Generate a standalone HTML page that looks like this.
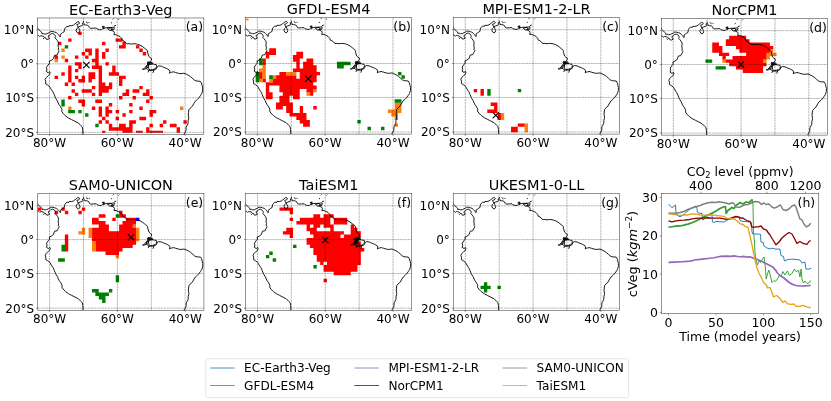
<!DOCTYPE html>
<html><head><meta charset="utf-8"><title>figure</title>
<style>html,body{margin:0;padding:0;background:#fff}svg{display:block}</style></head>
<body>
<svg width="831" height="401" viewBox="0 0 831 401" font-family="DejaVu Sans, Liberation Sans, sans-serif">
<rect width="831" height="401" fill="#fff"/>
<g transform="translate(0 0)">
<defs>
<clipPath id="pc"><rect x="0" y="0" width="166.15" height="116.45"/></clipPath>
<path id="coast" d="M-1.42 7.97 L-0.4 9.33 L0.27 10.69 L1.63 12.05 L2.99 13.57 L4.34 14.75 L4.17 15.6 L5.7 15.6 L7.05 16.11 L8.75 15.94 L10.44 15.09 L12.14 14.25 L13.33 13.4 L15.19 13.57 L16.89 14.08 L18.58 14.59 L19.94 15.77 L20.78 16.61 L21.63 17.8 L22.48 18.98 L22.82 17.46 L22.48 16.44 L24 15.6 L25.02 14.42 L26.38 13.91 L26.72 12.39 L27.05 10.69 L27.9 9.5 L29.26 8.48 L31.12 8.65 L31.46 7.63 L33.5 7.8 L35.53 7.29 L37.23 5.93 L38.24 5.25 L39.94 3.72 L41.29 4.06 L41.8 5.08 L40.95 6.1 L39.09 6.61 L39.6 7.63 L40.11 8.82 L40.28 9.67 L38.92 11.03 L38.41 12.73 L39.26 14.42 L40.62 15.26 L41.8 14.42 L42.14 12.73 L41.29 10.69 L40.62 9.33 L40.62 8.82 L42.31 8.31 L44.68 7.46 L45.02 6.61 L44.68 5.25 L45.7 4.57 L46.38 5.59 L46.55 6.95 L48.07 6.95 L49.77 7.29 L51.12 8.14 L51.63 9.5 L52.48 10.35 L55.87 10.18 L58.58 10.01 L59.43 11.03 L61.63 11.71 L63.67 11.71 L65.02 10.69 L66.72 10.52 L65.19 9.84 L67.73 9.84 L70.45 9.6 L73.16 9.6 L71.46 10.18 L69.77 10.35 L70.45 11.2 L71.8 12.22 L74.18 12.56 L76.21 13.57 L76.72 14.75 L76.21 16.78 L78.24 16.78 L79.94 17.46 L82.31 18.64 L84.35 20.84 L84.85 22.53 L86.72 23.2 L88.75 25.4 L89.43 25.91 L91.47 25.74 L93.5 26.08 L96.21 25.74 L98.58 25.91 L100.11 26.41 L102.31 27.09 L104.35 28.27 L106.38 29.79 L107.74 30.98 L109.09 31.82 L109.77 32.84 L110.11 35.03 L111.13 38.41 L112.48 39.6 L113.67 40.27 L113.84 42.13 L112.48 43.48 L111.47 44.84 L110.45 45.85 L109.09 47.21 L107.74 49.25 L106.04 50.77 L104.69 51.28 L106.04 51.45 L108.42 50.6 L110.11 51.28 L111.13 52.47 L113.5 52.47 L115.53 52.3 L117.23 51.62 L118.59 50.94 L119.6 48.57 L120.96 47.89 L123.67 48.23 L125.7 49.25 L128.08 50.09 L129.77 50.94 L131.47 51.96 L132.15 53.32 L131.81 55.36 L132.82 54.34 L133.84 54.34 L135.53 53.83 L137.91 54.51 L140.62 55.36 L142.99 55.7 L145.71 55.36 L147.74 55.7 L150.79 57.39 L152.82 58.58 L155.2 60.79 L156.89 62.32 L159.27 63.16 L162.66 63.33 L163.67 64.86 L164.35 67.24 L165.03 69.95 L164.86 73.01 L164.01 75.73 L162.66 77.76 L160.96 80.15 L159.6 81.53 L157.57 83.26 L156.21 85.34 L154.52 88.45 L152.49 90.18 L151.13 91.91 L150.79 94.33 L150.62 97.1 L151.13 99.87 L150.45 102.64 L150.28 105.75 L149.43 107.48 L148.42 109.21 L148.25 112.67 L147.4 114.4 L145.71 117.16 M-1.42 16.11 L-0.4 17.12 L0.61 17.46 L1.29 17.8 L1.97 18.64 L2.99 17.8 L4.34 17.96 L6.04 18.47 L6.72 19.66 L8.07 19.82 L8.75 21.34 L10.27 21.34 L11.8 20.5 L10.78 18.98 L10.44 17.96 L12.14 16.95 L13.16 15.77 L14.85 15.43 L16.55 16.44 L17.56 17.63 L17.73 18.64 L17.22 19.82 L18.58 21.18 L19.6 22.53 L20.61 24.22 L20.61 26.58 L20.27 27.26 L20.78 29.63 L20.61 31.99 L21.46 32.84 L20.27 35.03 L19.26 37.06 L16.89 37.4 L16.21 39.09 L15.7 40.78 L13.5 42.47 L11.63 43.15 L11.63 45.51 L10.44 47.04 L8.75 49.41 L9.26 51.96 L8.58 53.49 L10.61 54.85 L11.97 53.66 L12.48 55.02 L11.8 56.71 L10.61 57.56 L8.41 59.77 L7.39 61.64 L8.07 63.5 L7.9 65.88 L9.77 66.9 L11.97 68.6 L13.5 71.31 L15.19 73.86 L16.55 76.74 L17.9 80.15 L19.6 82.91 L21.29 86.72 L22.65 88.45 L24.34 91.56 L24 93.29 L25.36 95.37 L27.73 97.79 L30.78 100.04 L33.84 101.6 L37.23 103.33 L40.62 105.06 L42.99 107.48 L44.51 108.86 L45.02 111.98 L45.19 115.09 L45.02 117.5 M110.96 46.53 L113.5 45.85 L115.87 46.19 L118.59 46.7 L118.92 48.23 L118.25 49.92 L117.23 50.94 L114.86 51.62 L112.48 51.96 L111.13 50.94 L110.79 48.91Z M111.81 44.33 L114.52 44.5 L115.03 45.85 L112.82 46.19 L111.47 45.34Z M110.45 43.99 L112.14 45.17 L110.79 46.02Z M111.47 44.16 L113.84 44.84 L112.48 46.19 L110.45 46.53 L109.77 45.17Z M109.43 47.89 L111.13 47.21 L110.45 49.25 L108.42 49.92Z M116.21 52.13 L115.36 54.68 M111.13 52.3 L110.45 54 M73.16 9.67 L74.85 9.33 L76.55 9.16 L76.21 11.54 L73.16 11.88 L74.52 11.03Z M76.72 7.97 L77.91 7.46 M64.68 8.82 L66.04 8.31 L66.72 8.65 L65.7 8.99Z M45.53 3.38 L46.04 3.72 M48.58 4.06 L49.77 4.91 M51.12 4.4 L51.63 4.91 M73.67 4.91 L74.01 4.74 M75.36 1.17 L75.7 0.83 M80.96 1.51 L81.3 1.17 M5.53 20.33 L6.04 20.84" fill="none" stroke="#000" stroke-width="0.9" stroke-linejoin="round" stroke-linecap="round"/>
<path id="grid" d="M11.8 0V116.45 M45.7 0V116.45 M79.6 0V116.45 M113.5 0V116.45 M147.4 0V116.45 M0 12.05H166.15 M0 45.85H166.15 M0 79.8H166.15 M0 114.4H166.15" fill="none" stroke="#000" stroke-width="0.8" stroke-dasharray="2.2 0.6" stroke-opacity="0.36"/>
</defs>
<g transform="translate(37.7 17.98)">
<g clip-path="url(#pc)">
<path d="M40.62 13.74H44V17.12H40.62ZM30.45 20.5H33.84V23.88H30.45ZM77.91 20.5H81.55V23.88H77.91ZM81.3 20.5H84.69V23.88H81.3ZM20.27 23.88H23.66V27.26H20.27ZM64.34 23.88H67.73V27.26H64.34ZM84.69 23.88H88.08V27.51H84.69ZM81.3 27.26H84.94V30.64H81.3ZM84.69 27.26H88.08V30.64H84.69ZM98.25 27.26H101.64V30.64H98.25ZM47.39 30.64H51.03V34.02H47.39ZM50.78 30.64H54.17V34.27H50.78ZM57.56 30.64H60.95V34.27H57.56ZM67.73 30.64H71.12V34.02H67.73ZM101.64 30.64H105.03V34.02H101.64ZM44 34.02H47.39V37.4H44ZM50.78 34.02H54.17V37.4H50.78ZM57.56 34.02H60.95V37.65H57.56ZM64.34 34.02H67.73V37.65H64.34ZM105.03 34.02H108.42V37.4H105.03ZM16.89 37.4H20.27V41.03H16.89ZM37.23 37.4H40.62V40.78H37.23ZM47.39 37.4H50.78V40.78H47.39ZM57.56 37.4H60.95V41.03H57.56ZM64.34 37.4H67.73V40.78H64.34ZM27.05 40.78H30.45V44.16H27.05ZM54.17 40.78H57.81V44.16H54.17ZM57.56 40.78H60.95V44.41H57.56ZM37.23 44.16H40.87V47.55H37.23ZM40.62 44.16H44V47.8H40.62ZM57.56 44.16H60.95V47.8H57.56ZM67.73 44.16H71.12V47.55H67.73ZM30.45 47.55H33.84V51.19H30.45ZM40.62 47.55H44V50.94H40.62ZM60.95 47.55H64.34V51.19H60.95ZM57.56 47.55H61.2V50.94H57.56ZM54.17 47.55H57.81V50.94H54.17ZM74.52 47.55H77.91V51.19H74.52ZM30.45 50.94H33.84V54.59H30.45ZM37.23 50.94H40.62V54.34H37.23ZM60.95 50.94H64.34V54.59H60.95ZM74.52 50.94H77.91V54.59H74.52ZM23.66 54.34H27.05V57.73H23.66ZM30.45 54.34H33.84V57.98H30.45ZM50.78 54.34H54.42V57.98H50.78ZM54.17 54.34H57.56V57.98H54.17ZM60.95 54.34H64.34V57.98H60.95ZM77.91 54.34H81.3V57.73H77.91ZM74.52 54.34H78.16V57.73H74.52ZM71.12 54.34H74.77V57.73H71.12ZM16.89 57.73H20.27V61.13H16.89ZM30.45 57.73H33.84V61.38H30.45ZM37.23 57.73H40.62V61.13H37.23ZM44 57.73H47.39V61.38H44ZM50.78 57.73H54.42V61.38H50.78ZM54.17 57.73H57.56V61.13H54.17ZM60.95 57.73H64.34V61.38H60.95ZM81.3 57.73H84.94V61.38H81.3ZM84.69 57.73H88.08V61.13H84.69ZM30.45 61.13H33.84V64.52H30.45ZM40.62 61.13H44.25V64.52H40.62ZM44 61.13H47.39V64.52H44ZM50.78 61.13H54.17V64.52H50.78ZM60.95 61.13H64.34V64.77H60.95ZM81.3 61.13H84.69V64.77H81.3ZM27.05 64.52H30.45V67.92H27.05ZM33.84 64.52H37.23V67.92H33.84ZM60.95 64.52H64.59V68.17H60.95ZM64.34 64.52H67.73V68.17H64.34ZM71.12 64.52H74.52V68.17H71.12ZM81.3 64.52H84.69V67.92H81.3ZM54.17 67.92H57.56V71.31H54.17ZM71.12 67.92H74.52V71.31H71.12ZM67.73 67.92H71.38V71.56H67.73ZM64.34 67.92H67.98V71.56H64.34ZM60.95 67.92H64.59V71.56H60.95ZM101.64 67.92H105.03V71.31H101.64ZM33.84 71.31H37.23V74.71H33.84ZM50.78 71.31H54.17V74.71H50.78ZM47.39 71.31H51.03V74.71H47.39ZM44 71.31H47.64V74.71H44ZM67.73 71.31H71.12V74.71H67.73ZM64.34 71.31H67.98V74.71H64.34ZM60.95 71.31H64.59V74.96H60.95ZM88.08 71.31H91.47V74.96H88.08ZM94.86 71.31H98.5V74.71H94.86ZM98.25 71.31H101.64V74.71H98.25ZM108.42 71.31H111.81V74.96H108.42ZM37.23 74.71H40.62V78.1H37.23ZM54.17 74.71H57.56V78.1H54.17ZM60.95 74.71H64.34V78.1H60.95ZM84.69 74.71H88.33V78.1H84.69ZM88.08 74.71H91.47V78.1H88.08ZM105.03 74.71H108.67V78.1H105.03ZM108.42 74.71H111.81V78.1H108.42ZM30.45 78.1H33.84V81.53H30.45ZM81.3 78.1H84.69V81.53H81.3ZM94.86 78.1H98.25V81.53H94.86ZM111.81 78.1H115.2V81.53H111.81ZM40.62 81.53H44.25V84.99H40.62ZM44 81.53H47.39V85.24H44ZM57.56 81.53H61.2V84.99H57.56ZM60.95 81.53H64.34V84.99H60.95ZM108.42 81.53H111.81V84.99H108.42ZM44 84.99H47.39V88.45H44ZM71.12 84.99H74.52V88.45H71.12ZM91.47 84.99H94.86V88.45H91.47ZM54.17 88.45H57.56V91.91H54.17ZM60.95 88.45H64.34V92.16H60.95ZM67.73 88.45H71.12V92.16H67.73ZM101.64 88.45H105.03V91.91H101.64ZM60.95 91.91H64.34V95.62H60.95ZM67.73 91.91H71.38V95.62H67.73ZM71.12 91.91H74.52V95.37H71.12ZM77.91 91.91H81.3V95.37H77.91ZM91.47 91.91H94.86V95.37H91.47ZM111.81 91.91H115.45V95.62H111.81ZM115.2 91.91H118.59V95.37H115.2ZM60.95 95.37H64.34V98.83H60.95ZM67.73 95.37H71.12V98.83H67.73ZM84.69 95.37H88.08V98.83H84.69ZM111.81 95.37H115.2V98.83H111.81ZM64.34 98.83H67.73V102.29H64.34ZM77.91 98.83H81.3V102.29H77.91ZM101.64 98.83H105.28V102.29H101.64ZM105.03 98.83H108.42V102.29H105.03ZM60.95 102.29H64.34V105.75H60.95ZM67.73 102.29H71.12V105.75H67.73ZM91.47 102.29H95.11V106H91.47ZM94.86 102.29H98.25V105.75H94.86ZM125.36 102.29H128.75V105.75H125.36ZM145.71 102.29H149.1V105.75H145.71ZM71.12 105.75H74.52V109.46H71.12ZM81.3 105.75H84.94V109.46H81.3ZM84.69 105.75H88.08V109.46H84.69ZM91.47 105.75H94.86V109.46H91.47ZM111.81 105.75H115.2V109.21H111.81ZM121.97 105.75H125.36V109.21H121.97ZM132.15 105.75H135.78V109.21H132.15ZM135.53 105.75H138.93V109.21H135.53ZM91.47 109.21H94.86V112.92H91.47ZM88.08 109.21H91.72V112.92H88.08ZM84.69 109.21H88.33V112.92H84.69ZM81.3 109.21H84.94V112.67H81.3ZM77.91 109.21H81.55V112.67H77.91ZM74.52 109.21H78.16V112.67H74.52ZM71.12 109.21H74.77V112.67H71.12ZM108.42 109.21H111.81V112.92H108.42ZM138.93 109.21H142.32V112.92H138.93ZM64.34 112.67H67.73V114.7H64.34ZM91.47 112.67H94.86V114.7H91.47ZM88.08 112.67H91.72V114.7H88.08ZM84.69 112.67H88.33V114.7H84.69ZM98.25 112.67H101.89V114.7H98.25ZM101.64 112.67H105.03V114.7H101.64ZM121.97 112.67H125.36V114.7H121.97ZM118.59 112.67H122.22V114.7H118.59ZM115.2 112.67H118.84V114.7H115.2ZM111.81 112.67H115.45V114.7H111.81ZM108.42 112.67H112.06V114.7H108.42ZM138.93 112.67H142.32V114.7H138.93Z" fill="#ff0000"/>
<path d="M23.66 30.64H27.05V34.02H23.66ZM23.66 37.4H27.05V40.78H23.66ZM16.89 40.78H20.27V44.16H16.89ZM30.45 88.45H33.84V92.16H30.45ZM142.32 88.45H145.71V91.91H142.32Z" fill="#ff7f0e"/>
<path d="M27.05 27.26H30.45V30.64H27.05ZM23.66 81.53H27.05V85.24H23.66ZM23.66 84.99H27.05V88.45H23.66ZM30.45 91.91H34.09V95.37H30.45ZM33.84 91.91H37.23V95.37H33.84ZM40.62 91.91H44V95.37H40.62ZM47.39 95.37H50.78V98.83H47.39ZM57.56 105.75H60.95V109.21H57.56Z" fill="#008000"/>
<use href="#grid"/>
<use href="#coast"/>
<path d="M45.6 43.92L51.9 50.22M45.6 50.22L51.9 43.92" stroke="#000" stroke-width="1.1" fill="none"/>
</g>
<text x="165.45" y="12.9" font-size="12.5" text-anchor="end">(a)</text>
<rect x="0" y="0" width="166.15" height="116.45" fill="none" stroke="#000" stroke-width="0.42"/>
<text x="11.8" y="129.45" font-size="12.0" text-anchor="middle">80°W</text>
<text x="79.6" y="129.45" font-size="12.0" text-anchor="middle">60°W</text>
<text x="147.4" y="129.45" font-size="12.0" text-anchor="middle">40°W</text>
<text x="-3.6" y="16.45" font-size="12.0" text-anchor="end">10°N</text>
<text x="-3.6" y="50.25" font-size="12.0" text-anchor="end">0°</text>
<text x="-3.6" y="84.2" font-size="12.0" text-anchor="end">10°S</text>
<text x="-3.6" y="118.8" font-size="12.0" text-anchor="end">20°S</text>
<path d="M11.8 116.45v1.7M79.6 116.45v1.7M147.4 116.45v1.7M0 12.05h-1.7M0 45.85h-1.7M0 79.8h-1.7M0 114.4h-1.7" stroke="#000" stroke-width="0.42" fill="none"/>
<text x="83.08" y="-3.3" font-size="14.45" text-anchor="middle">EC-Earth3-Veg</text>
</g>
<g transform="translate(245.55 17.63)">
<g clip-path="url(#pc)">
<path d="M23.66 30.64H27.3V34.27H23.66ZM27.05 30.64H30.45V34.27H27.05ZM20.27 34.02H23.91V37.65H20.27ZM23.66 34.02H27.3V37.4H23.66ZM27.05 34.02H30.45V37.4H27.05ZM50.78 34.02H54.42V37.65H50.78ZM54.17 34.02H57.56V37.65H54.17ZM20.27 37.4H23.66V40.78H20.27ZM47.39 37.4H51.03V41.03H47.39ZM50.78 37.4H54.42V41.03H50.78ZM54.17 37.4H57.56V40.78H54.17ZM16.89 40.78H20.27V44.41H16.89ZM47.39 40.78H51.03V44.16H47.39ZM50.78 40.78H54.17V44.41H50.78ZM60.95 40.78H64.59V44.41H60.95ZM64.34 40.78H67.73V44.41H64.34ZM16.89 44.16H20.27V47.8H16.89ZM50.78 44.16H54.17V47.8H50.78ZM64.34 44.16H67.73V47.8H64.34ZM60.95 44.16H64.59V47.8H60.95ZM57.56 44.16H61.2V47.8H57.56ZM50.78 47.55H54.17V51.19H50.78ZM67.73 47.55H71.12V51.19H67.73ZM64.34 47.55H67.98V51.19H64.34ZM60.95 47.55H64.59V51.19H60.95ZM57.56 47.55H61.2V51.19H57.56ZM67.73 50.94H71.12V54.59H67.73ZM64.34 50.94H67.98V54.59H64.34ZM60.95 50.94H64.59V54.59H60.95ZM57.56 50.94H61.2V54.59H57.56ZM54.17 50.94H57.81V54.59H54.17ZM50.78 50.94H54.42V54.34H50.78ZM47.39 50.94H51.03V54.59H47.39ZM13.5 54.34H17.14V57.98H13.5ZM33.84 54.34H37.48V57.98H33.84ZM37.23 54.34H40.87V57.98H37.23ZM71.12 54.34H74.52V57.73H71.12ZM67.73 54.34H71.38V57.98H67.73ZM64.34 54.34H67.98V57.98H64.34ZM60.95 54.34H64.59V57.98H60.95ZM57.56 54.34H61.2V57.98H57.56ZM54.17 54.34H57.81V57.98H54.17ZM13.5 57.73H17.14V61.38H13.5ZM47.39 57.73H50.78V61.38H47.39ZM44 57.73H47.64V61.38H44ZM40.62 57.73H44.25V61.38H40.62ZM37.23 57.73H40.87V61.38H37.23ZM33.84 57.73H37.48V61.38H33.84ZM30.45 57.73H34.09V61.38H30.45ZM67.73 57.73H71.12V61.38H67.73ZM64.34 57.73H67.98V61.38H64.34ZM60.95 57.73H64.59V61.38H60.95ZM57.56 57.73H61.2V61.38H57.56ZM54.17 57.73H57.81V61.38H54.17ZM16.89 61.13H20.27V64.52H16.89ZM67.73 61.13H71.12V64.52H67.73ZM64.34 61.13H67.98V64.77H64.34ZM60.95 61.13H64.59V64.77H60.95ZM57.56 61.13H61.2V64.77H57.56ZM54.17 61.13H57.81V64.77H54.17ZM50.78 61.13H54.42V64.77H50.78ZM47.39 61.13H51.03V64.77H47.39ZM44 61.13H47.64V64.77H44ZM40.62 61.13H44.25V64.77H40.62ZM37.23 61.13H40.87V64.77H37.23ZM33.84 61.13H37.48V64.77H33.84ZM30.45 61.13H34.09V64.77H30.45ZM27.05 61.13H30.7V64.77H27.05ZM64.34 64.52H67.73V68.17H64.34ZM60.95 64.52H64.59V68.17H60.95ZM57.56 64.52H61.2V68.17H57.56ZM54.17 64.52H57.81V68.17H54.17ZM50.78 64.52H54.42V68.17H50.78ZM47.39 64.52H51.03V68.17H47.39ZM44 64.52H47.64V68.17H44ZM40.62 64.52H44.25V68.17H40.62ZM37.23 64.52H40.87V68.17H37.23ZM33.84 64.52H37.48V68.17H33.84ZM30.45 64.52H34.09V67.92H30.45ZM27.05 64.52H30.7V67.92H27.05ZM23.66 64.52H27.3V67.92H23.66ZM20.27 64.52H23.91V68.17H20.27ZM20.27 67.92H23.66V71.56H20.27ZM67.73 67.92H71.12V71.56H67.73ZM64.34 67.92H67.98V71.56H64.34ZM60.95 67.92H64.59V71.56H60.95ZM57.56 67.92H61.2V71.31H57.56ZM54.17 67.92H57.81V71.31H54.17ZM50.78 67.92H54.42V71.56H50.78ZM47.39 67.92H51.03V71.56H47.39ZM44 67.92H47.64V71.56H44ZM40.62 67.92H44.25V71.56H40.62ZM37.23 67.92H40.87V71.56H37.23ZM33.84 67.92H37.48V71.56H33.84ZM20.27 71.31H23.66V74.96H20.27ZM50.78 71.31H54.17V74.96H50.78ZM47.39 71.31H51.03V74.96H47.39ZM44 71.31H47.64V74.96H44ZM40.62 71.31H44.25V74.96H40.62ZM37.23 71.31H40.87V74.96H37.23ZM33.84 71.31H37.48V74.71H33.84ZM60.95 71.31H64.59V74.96H60.95ZM64.34 71.31H67.98V74.96H64.34ZM20.27 74.71H23.91V78.35H20.27ZM23.66 74.71H27.05V78.35H23.66ZM50.78 74.71H54.17V78.35H50.78ZM47.39 74.71H51.03V78.35H47.39ZM44 74.71H47.64V78.1H44ZM40.62 74.71H44.25V78.35H40.62ZM37.23 74.71H40.87V78.35H37.23ZM64.34 74.71H67.73V78.1H64.34ZM20.27 78.1H23.91V81.53H20.27ZM23.66 78.1H27.05V81.53H23.66ZM40.62 78.1H44V81.78H40.62ZM37.23 78.1H40.87V81.78H37.23ZM33.84 78.1H37.48V81.78H33.84ZM47.39 78.1H51.03V81.53H47.39ZM50.78 78.1H54.17V81.53H50.78ZM40.62 81.53H44V85.24H40.62ZM37.23 81.53H40.87V85.24H37.23ZM33.84 81.53H37.48V85.24H33.84ZM44 84.99H47.39V88.7H44ZM40.62 84.99H44.25V88.7H40.62ZM37.23 84.99H40.87V88.45H37.23ZM33.84 84.99H37.48V88.7H33.84ZM30.45 84.99H34.09V88.7H30.45ZM30.45 88.45H34.09V91.91H30.45ZM33.84 88.45H37.23V91.91H33.84ZM40.62 88.45H44.25V92.16H40.62ZM44 88.45H47.39V92.16H44ZM54.17 88.45H57.56V92.16H54.17ZM67.73 88.45H71.12V91.91H67.73ZM40.62 91.91H44.25V95.37H40.62ZM44 91.91H47.39V95.62H44ZM54.17 91.91H57.56V95.62H54.17ZM57.56 95.37H60.95V99.08H57.56ZM54.17 95.37H57.81V99.08H54.17ZM50.78 95.37H54.42V99.08H50.78ZM47.39 95.37H51.03V98.83H47.39ZM44 95.37H47.64V98.83H44ZM57.56 98.83H60.95V102.54H57.56ZM54.17 98.83H57.81V102.54H54.17ZM50.78 98.83H54.42V102.29H50.78ZM60.95 102.29H64.34V106H60.95ZM57.56 102.29H61.2V106H57.56ZM54.17 102.29H57.81V105.75H54.17ZM57.56 105.75H61.2V109.21H57.56ZM60.95 105.75H64.34V109.21H60.95Z" fill="#ff0000"/>
<path d="M16.89 47.55H20.27V51.19H16.89ZM13.5 50.94H17.14V54.59H13.5ZM16.89 50.94H20.27V54.59H16.89ZM16.89 54.34H20.27V57.98H16.89ZM47.39 54.34H50.78V57.98H47.39ZM44 54.34H47.64V57.98H44ZM40.62 54.34H44.25V57.98H40.62ZM16.89 57.73H20.27V61.38H16.89ZM27.05 57.73H30.7V61.38H27.05ZM13.5 61.13H17.14V64.52H13.5ZM23.66 61.13H27.3V64.77H23.66ZM67.73 71.31H71.12V74.71H67.73ZM60.95 74.71H64.59V78.1H60.95ZM149.1 84.99H152.74V88.7H149.1ZM152.49 84.99H155.88V88.7H152.49ZM149.1 88.45H152.74V92.16H149.1ZM152.49 88.45H155.88V92.16H152.49ZM152.49 91.91H155.88V95.37H152.49ZM149.1 91.91H152.74V95.62H149.1ZM145.71 91.91H149.35V95.62H145.71ZM142.32 91.91H145.96V95.37H142.32ZM145.71 95.37H149.35V98.83H145.71ZM149.1 95.37H152.49V99.08H149.1ZM149.1 98.83H152.49V102.29H149.1ZM149.1 105.75H152.49V109.21H149.1Z" fill="#ff7f0e"/>
<path d="M13.5 40.78H17.14V44.41H13.5ZM13.5 44.16H17.14V47.55H13.5ZM101.64 44.16H105.03V47.55H101.64ZM98.25 44.16H101.89V47.55H98.25ZM94.86 44.16H98.5V47.8H94.86ZM91.47 44.16H95.11V47.8H91.47ZM91.47 47.55H95.11V50.94H91.47ZM94.86 47.55H98.25V50.94H94.86ZM10.11 54.34H13.75V57.98H10.11ZM152.49 54.34H155.88V57.73H152.49ZM10.11 57.73H13.75V61.38H10.11ZM23.66 57.73H27.3V61.38H23.66ZM155.88 57.73H159.27V61.13H155.88ZM10.11 61.13H13.75V64.52H10.11ZM149.1 81.53H152.74V85.24H149.1ZM152.49 81.53H155.88V85.24H152.49ZM111.81 102.29H115.2V105.75H111.81ZM121.97 109.21H125.36V112.67H121.97ZM135.53 109.21H138.93V112.67H135.53Z" fill="#008000"/>
<rect x="0.5" y="1.0" width="2.6" height="1.8" fill="#ff7f0e"/>
<use href="#grid"/>
<use href="#coast"/>
<path d="M59.5 57.98L65.8 64.28M59.5 64.28L65.8 57.98" stroke="#000" stroke-width="1.1" fill="none"/>
</g>
<text x="165.45" y="12.9" font-size="12.5" text-anchor="end">(b)</text>
<rect x="0" y="0" width="166.15" height="116.45" fill="none" stroke="#000" stroke-width="0.42"/>
<text x="11.8" y="129.45" font-size="12.0" text-anchor="middle">80°W</text>
<text x="79.6" y="129.45" font-size="12.0" text-anchor="middle">60°W</text>
<text x="147.4" y="129.45" font-size="12.0" text-anchor="middle">40°W</text>
<text x="-3.6" y="16.45" font-size="12.0" text-anchor="end">10°N</text>
<text x="-3.6" y="50.25" font-size="12.0" text-anchor="end">0°</text>
<text x="-3.6" y="84.2" font-size="12.0" text-anchor="end">10°S</text>
<text x="-3.6" y="118.8" font-size="12.0" text-anchor="end">20°S</text>
<path d="M11.8 116.45v1.7M79.6 116.45v1.7M147.4 116.45v1.7M0 12.05h-1.7M0 45.85h-1.7M0 79.8h-1.7M0 114.4h-1.7" stroke="#000" stroke-width="0.42" fill="none"/>
<text x="83.08" y="-3.3" font-size="14.45" text-anchor="middle">GFDL-ESM4</text>
</g>
<g transform="translate(453.45 17.63)">
<g clip-path="url(#pc)">
<path d="M20.27 71.31H23.66V74.71H20.27ZM27.05 71.31H30.45V74.96H27.05ZM27.05 74.71H30.45V78.1H27.05ZM37.23 84.99H40.87V88.45H37.23ZM40.62 84.99H44V88.7H40.62ZM40.62 88.45H44V92.16H40.62ZM33.84 91.91H37.48V95.37H33.84ZM37.23 91.91H40.87V95.37H37.23ZM40.62 91.91H44V95.37H40.62ZM44 95.37H47.64V99.08H44ZM44 98.83H47.64V102.29H44ZM64.34 105.75H67.98V109.21H64.34ZM67.73 105.75H71.38V109.21H67.73ZM57.56 109.21H61.2V112.92H57.56ZM60.95 109.21H64.34V112.92H60.95ZM57.56 112.67H61.2V114.7H57.56ZM60.95 112.67H64.34V114.7H60.95Z" fill="#ff0000"/>
<path d="M47.39 95.37H50.78V99.08H47.39ZM47.39 98.83H50.78V102.29H47.39ZM71.12 105.75H74.52V109.46H71.12ZM71.12 109.21H74.52V112.92H71.12ZM71.12 112.67H74.52V114.7H71.12Z" fill="#ff7f0e"/>
<path d="M33.84 71.31H37.23V74.96H33.84ZM64.34 71.31H67.73V74.71H64.34ZM33.84 74.71H37.23V78.1H33.84Z" fill="#008000"/>
<use href="#grid"/>
<use href="#coast"/>
<path d="M39.16 94.47L45.46 100.77M39.16 100.77L45.46 94.47" stroke="#000" stroke-width="1.1" fill="none"/>
</g>
<text x="165.45" y="12.9" font-size="12.5" text-anchor="end">(c)</text>
<rect x="0" y="0" width="166.15" height="116.45" fill="none" stroke="#000" stroke-width="0.42"/>
<text x="11.8" y="129.45" font-size="12.0" text-anchor="middle">80°W</text>
<text x="79.6" y="129.45" font-size="12.0" text-anchor="middle">60°W</text>
<text x="147.4" y="129.45" font-size="12.0" text-anchor="middle">40°W</text>
<text x="-3.6" y="16.45" font-size="12.0" text-anchor="end">10°N</text>
<text x="-3.6" y="50.25" font-size="12.0" text-anchor="end">0°</text>
<text x="-3.6" y="84.2" font-size="12.0" text-anchor="end">10°S</text>
<text x="-3.6" y="118.8" font-size="12.0" text-anchor="end">20°S</text>
<path d="M11.8 116.45v1.7M79.6 116.45v1.7M147.4 116.45v1.7M0 12.05h-1.7M0 45.85h-1.7M0 79.8h-1.7M0 114.4h-1.7" stroke="#000" stroke-width="0.42" fill="none"/>
<text x="83.08" y="-3.3" font-size="14.45" text-anchor="middle">MPI-ESM1-2-LR</text>
</g>
<g transform="translate(661.45 18.63)">
<g clip-path="url(#pc)">
<path d="M81.3 17.12H84.69V20.75H81.3ZM77.91 17.12H81.55V20.75H77.91ZM74.52 17.12H78.16V20.75H74.52ZM71.12 17.12H74.77V20.75H71.12ZM67.73 17.12H71.38V20.75H67.73ZM84.69 20.5H88.08V24.13H84.69ZM81.3 20.5H84.94V24.13H81.3ZM77.91 20.5H81.55V24.13H77.91ZM74.52 20.5H78.16V24.13H74.52ZM71.12 20.5H74.77V24.13H71.12ZM67.73 20.5H71.38V24.13H67.73ZM64.34 20.5H67.98V24.13H64.34ZM50.78 23.88H54.42V27.51H50.78ZM54.17 23.88H57.56V27.51H54.17ZM105.03 23.88H108.42V27.51H105.03ZM101.64 23.88H105.28V27.51H101.64ZM98.25 23.88H101.89V27.51H98.25ZM94.86 23.88H98.5V27.51H94.86ZM91.47 23.88H95.11V27.51H91.47ZM88.08 23.88H91.72V27.51H88.08ZM84.69 23.88H88.33V27.51H84.69ZM81.3 23.88H84.94V27.51H81.3ZM77.91 23.88H81.55V27.51H77.91ZM74.52 23.88H78.16V27.51H74.52ZM71.12 23.88H74.77V27.26H71.12ZM67.73 23.88H71.38V27.26H67.73ZM64.34 23.88H67.98V27.26H64.34ZM57.56 27.26H60.95V30.89H57.56ZM54.17 27.26H57.81V30.89H54.17ZM50.78 27.26H54.42V30.89H50.78ZM108.42 27.26H111.81V30.89H108.42ZM105.03 27.26H108.67V30.89H105.03ZM101.64 27.26H105.28V30.89H101.64ZM98.25 27.26H101.89V30.89H98.25ZM94.86 27.26H98.5V30.89H94.86ZM91.47 27.26H95.11V30.89H91.47ZM88.08 27.26H91.72V30.89H88.08ZM84.69 27.26H88.33V30.89H84.69ZM81.3 27.26H84.94V30.89H81.3ZM77.91 27.26H81.55V30.89H77.91ZM74.52 27.26H78.16V30.64H74.52ZM57.56 30.64H60.95V34.27H57.56ZM54.17 30.64H57.81V34.02H54.17ZM50.78 30.64H54.42V34.02H50.78ZM105.03 30.64H108.67V34.27H105.03ZM101.64 30.64H105.28V34.27H101.64ZM98.25 30.64H101.89V34.27H98.25ZM94.86 30.64H98.5V34.27H94.86ZM91.47 30.64H95.11V34.27H91.47ZM88.08 30.64H91.72V34.27H88.08ZM84.69 30.64H88.33V34.27H84.69ZM81.3 30.64H84.94V34.02H81.3ZM77.91 30.64H81.55V34.02H77.91ZM64.34 34.02H67.73V37.4H64.34ZM60.95 34.02H64.59V37.65H60.95ZM57.56 34.02H61.2V37.4H57.56ZM101.64 34.02H105.28V37.65H101.64ZM98.25 34.02H101.89V37.65H98.25ZM94.86 34.02H98.5V37.65H94.86ZM91.47 34.02H95.11V37.65H91.47ZM88.08 34.02H91.72V37.65H88.08ZM84.69 34.02H88.33V37.65H84.69ZM60.95 37.4H64.34V41.03H60.95ZM101.64 37.4H105.28V41.03H101.64ZM98.25 37.4H101.89V41.03H98.25ZM94.86 37.4H98.5V41.03H94.86ZM91.47 37.4H95.11V41.03H91.47ZM88.08 37.4H91.72V41.03H88.08ZM84.69 37.4H88.33V41.03H84.69ZM81.3 37.4H84.94V41.03H81.3ZM77.91 37.4H81.55V41.03H77.91ZM74.52 37.4H78.16V41.03H74.52ZM71.12 37.4H74.77V41.03H71.12ZM98.25 40.78H101.89V44.41H98.25ZM94.86 40.78H98.5V44.41H94.86ZM91.47 40.78H95.11V44.41H91.47ZM88.08 40.78H91.72V44.41H88.08ZM84.69 40.78H88.33V44.41H84.69ZM81.3 40.78H84.94V44.41H81.3ZM77.91 40.78H81.55V44.41H77.91ZM74.52 40.78H78.16V44.41H74.52ZM71.12 40.78H74.77V44.41H71.12ZM67.73 40.78H71.38V44.41H67.73ZM64.34 40.78H67.98V44.16H64.34ZM101.64 44.16H105.03V47.55H101.64ZM98.25 44.16H101.89V47.8H98.25ZM94.86 44.16H98.5V47.8H94.86ZM91.47 44.16H95.11V47.8H91.47ZM88.08 44.16H91.72V47.8H88.08ZM84.69 44.16H88.33V47.8H84.69ZM81.3 44.16H84.94V47.8H81.3ZM77.91 44.16H81.55V47.8H77.91ZM74.52 44.16H78.16V47.8H74.52ZM71.12 44.16H74.77V47.55H71.12ZM67.73 44.16H71.38V47.55H67.73ZM98.25 47.55H101.64V51.19H98.25ZM94.86 47.55H98.5V51.19H94.86ZM91.47 47.55H95.11V51.19H91.47ZM88.08 47.55H91.72V51.19H88.08ZM84.69 47.55H88.33V51.19H84.69ZM81.3 47.55H84.94V51.19H81.3ZM77.91 47.55H81.55V50.94H77.91ZM74.52 47.55H78.16V50.94H74.52ZM98.25 50.94H101.64V54.34H98.25ZM94.86 50.94H98.5V54.34H94.86ZM91.47 50.94H95.11V54.34H91.47ZM88.08 50.94H91.72V54.34H88.08ZM84.69 50.94H88.33V54.34H84.69ZM81.3 50.94H84.94V54.34H81.3Z" fill="#ff0000"/>
<path d="M108.42 30.64H111.81V34.27H108.42ZM111.81 34.02H115.2V37.4H111.81ZM108.42 34.02H112.06V37.4H108.42ZM105.03 34.02H108.67V37.65H105.03ZM105.03 37.4H108.42V40.78H105.03ZM60.95 40.78H64.59V44.16H60.95ZM101.64 40.78H105.03V44.41H101.64Z" fill="#ff7f0e"/>
<path d="M44 40.78H47.64V44.16H44ZM47.39 40.78H50.78V44.16H47.39ZM60.95 47.55H64.34V50.94H60.95ZM57.56 47.55H61.2V50.94H57.56ZM54.17 47.55H57.81V50.94H54.17Z" fill="#008000"/>
<use href="#grid"/>
<use href="#coast"/>
<path d="M76.45 42.7L82.75 49M76.45 49L82.75 42.7" stroke="#000" stroke-width="1.1" fill="none"/>
</g>
<text x="165.45" y="12.9" font-size="12.5" text-anchor="end">(d)</text>
<rect x="0" y="0" width="166.15" height="116.45" fill="none" stroke="#000" stroke-width="0.42"/>
<text x="11.8" y="129.45" font-size="12.0" text-anchor="middle">80°W</text>
<text x="79.6" y="129.45" font-size="12.0" text-anchor="middle">60°W</text>
<text x="147.4" y="129.45" font-size="12.0" text-anchor="middle">40°W</text>
<text x="-3.6" y="16.45" font-size="12.0" text-anchor="end">10°N</text>
<text x="-3.6" y="50.25" font-size="12.0" text-anchor="end">0°</text>
<text x="-3.6" y="84.2" font-size="12.0" text-anchor="end">10°S</text>
<text x="-3.6" y="118.8" font-size="12.0" text-anchor="end">20°S</text>
<path d="M11.8 116.45v1.7M79.6 116.45v1.7M147.4 116.45v1.7M0 12.05h-1.7M0 45.85h-1.7M0 79.8h-1.7M0 114.4h-1.7" stroke="#000" stroke-width="0.42" fill="none"/>
<text x="83.08" y="-3.3" font-size="14.45" text-anchor="middle">NorCPM1</text>
</g>
<g transform="translate(37.8 193.75)">
<g clip-path="url(#pc)">
<path d="M-0.06 13.74H3.33V17.12H-0.06ZM23.66 13.74H27.05V17.12H23.66ZM44 13.74H47.39V17.12H44ZM16.89 17.12H20.27V20.5H16.89ZM27.05 17.12H30.45V20.5H27.05ZM40.62 17.12H44V20.5H40.62ZM81.3 17.12H84.69V20.75H81.3ZM60.95 20.5H64.59V23.88H60.95ZM64.34 20.5H67.73V23.88H64.34ZM81.3 20.5H84.94V23.88H81.3ZM84.69 20.5H88.08V23.88H84.69ZM54.17 23.88H57.81V27.51H54.17ZM57.56 23.88H60.95V27.51H57.56ZM74.52 23.88H77.91V27.26H74.52ZM94.86 23.88H98.5V27.51H94.86ZM91.47 23.88H95.11V27.51H91.47ZM88.08 23.88H91.72V27.51H88.08ZM64.34 27.26H67.73V30.89H64.34ZM60.95 27.26H64.59V30.89H60.95ZM57.56 27.26H61.2V30.64H57.56ZM54.17 27.26H57.81V30.64H54.17ZM94.86 27.26H98.25V30.89H94.86ZM91.47 27.26H95.11V30.89H91.47ZM88.08 27.26H91.72V30.89H88.08ZM84.69 27.26H88.33V30.89H84.69ZM67.73 30.64H71.12V34.27H67.73ZM64.34 30.64H67.98V34.27H64.34ZM60.95 30.64H64.59V34.27H60.95ZM91.47 30.64H95.11V34.27H91.47ZM88.08 30.64H91.72V34.27H88.08ZM84.69 30.64H88.33V34.27H84.69ZM81.3 30.64H84.94V34.27H81.3ZM67.73 34.02H71.12V37.65H67.73ZM64.34 34.02H67.98V37.65H64.34ZM60.95 34.02H64.59V37.65H60.95ZM57.56 34.02H61.2V37.65H57.56ZM54.17 34.02H57.81V37.65H54.17ZM94.86 34.02H98.5V37.65H94.86ZM91.47 34.02H95.11V37.65H91.47ZM88.08 34.02H91.72V37.65H88.08ZM84.69 34.02H88.33V37.65H84.69ZM81.3 34.02H84.94V37.65H81.3ZM94.86 37.4H98.5V41.03H94.86ZM91.47 37.4H95.11V41.03H91.47ZM88.08 37.4H91.72V41.03H88.08ZM84.69 37.4H88.33V41.03H84.69ZM81.3 37.4H84.94V41.03H81.3ZM77.91 37.4H81.55V41.03H77.91ZM74.52 37.4H78.16V41.03H74.52ZM71.12 37.4H74.77V41.03H71.12ZM67.73 37.4H71.38V41.03H67.73ZM64.34 37.4H67.98V41.03H64.34ZM60.95 37.4H64.59V41.03H60.95ZM57.56 37.4H61.2V41.03H57.56ZM54.17 37.4H57.81V41.03H54.17ZM27.05 40.78H30.45V44.41H27.05ZM94.86 40.78H98.5V44.41H94.86ZM91.47 40.78H95.11V44.41H91.47ZM88.08 40.78H91.72V44.41H88.08ZM84.69 40.78H88.33V44.41H84.69ZM81.3 40.78H84.94V44.41H81.3ZM77.91 40.78H81.55V44.41H77.91ZM74.52 40.78H78.16V44.41H74.52ZM71.12 40.78H74.77V44.41H71.12ZM67.73 40.78H71.38V44.41H67.73ZM64.34 40.78H67.98V44.41H64.34ZM60.95 40.78H64.59V44.41H60.95ZM57.56 40.78H61.2V44.41H57.56ZM54.17 40.78H57.81V44.41H54.17ZM27.05 44.16H30.45V47.8H27.05ZM94.86 44.16H98.5V47.8H94.86ZM91.47 44.16H95.11V47.8H91.47ZM88.08 44.16H91.72V47.8H88.08ZM84.69 44.16H88.33V47.8H84.69ZM81.3 44.16H84.94V47.8H81.3ZM77.91 44.16H81.55V47.8H77.91ZM74.52 44.16H78.16V47.8H74.52ZM71.12 44.16H74.77V47.8H71.12ZM67.73 44.16H71.38V47.8H67.73ZM64.34 44.16H67.98V47.8H64.34ZM60.95 44.16H64.59V47.8H60.95ZM57.56 44.16H61.2V47.8H57.56ZM54.17 44.16H57.81V47.8H54.17ZM27.05 47.55H30.45V51.19H27.05ZM94.86 47.55H98.25V50.94H94.86ZM91.47 47.55H95.11V51.19H91.47ZM88.08 47.55H91.72V51.19H88.08ZM84.69 47.55H88.33V51.19H84.69ZM81.3 47.55H84.94V51.19H81.3ZM77.91 47.55H81.55V51.19H77.91ZM74.52 47.55H78.16V51.19H74.52ZM71.12 47.55H74.77V51.19H71.12ZM67.73 47.55H71.38V51.19H67.73ZM64.34 47.55H67.98V51.19H64.34ZM60.95 47.55H64.59V51.19H60.95ZM57.56 47.55H61.2V51.19H57.56ZM27.05 50.94H30.45V54.59H27.05ZM91.47 50.94H94.86V54.34H91.47ZM88.08 50.94H91.72V54.34H88.08ZM84.69 50.94H88.33V54.34H84.69ZM81.3 50.94H84.94V54.59H81.3ZM77.91 50.94H81.55V54.59H77.91ZM74.52 50.94H78.16V54.59H74.52ZM71.12 50.94H74.77V54.59H71.12ZM67.73 50.94H71.38V54.59H67.73ZM64.34 50.94H67.98V54.59H64.34ZM60.95 50.94H64.59V54.59H60.95ZM57.56 50.94H61.2V54.59H57.56ZM27.05 54.34H30.45V57.73H27.05ZM81.3 54.34H84.69V57.73H81.3ZM77.91 54.34H81.55V57.98H77.91ZM74.52 54.34H78.16V57.98H74.52ZM71.12 54.34H74.77V57.98H71.12ZM67.73 54.34H71.38V57.98H67.73ZM64.34 54.34H67.98V57.73H64.34ZM60.95 54.34H64.59V57.73H60.95ZM57.56 54.34H61.2V57.73H57.56ZM77.91 57.73H81.3V61.38H77.91ZM74.52 57.73H78.16V61.13H74.52ZM71.12 57.73H74.77V61.13H71.12ZM67.73 57.73H71.38V61.13H67.73Z" fill="#ff0000"/>
<path d="M94.86 30.64H98.25V34.27H94.86ZM44 34.02H47.39V37.65H44ZM50.78 34.02H54.42V37.65H50.78ZM98.25 34.02H101.64V37.65H98.25ZM40.62 37.4H44.25V40.78H40.62ZM44 37.4H47.39V40.78H44ZM50.78 37.4H54.42V41.03H50.78ZM98.25 37.4H101.64V41.03H98.25ZM50.78 40.78H54.42V44.16H50.78ZM98.25 40.78H101.64V44.41H98.25ZM98.25 44.16H101.64V47.55H98.25ZM54.17 47.55H57.81V51.19H54.17ZM54.17 50.94H57.81V54.59H54.17ZM54.17 54.34H57.81V57.73H54.17ZM77.91 61.13H81.3V64.52H77.91Z" fill="#ff7f0e"/>
<path d="M77.91 20.5H81.55V23.88H77.91ZM23.66 50.94H27.3V54.59H23.66ZM23.66 54.34H27.3V57.73H23.66ZM20.27 64.52H23.91V67.92H20.27ZM23.66 64.52H27.05V67.92H23.66ZM77.91 81.53H81.3V85.24H77.91ZM77.91 84.99H81.3V88.45H77.91ZM54.17 95.37H57.81V98.83H54.17ZM57.56 95.37H60.95V99.08H57.56ZM71.12 95.37H74.52V98.83H71.12ZM67.73 98.83H71.12V102.29H67.73ZM64.34 98.83H67.98V102.54H64.34ZM60.95 98.83H64.59V102.54H60.95ZM57.56 98.83H61.2V102.29H57.56ZM60.95 102.29H64.59V105.75H60.95ZM64.34 102.29H67.73V106H64.34ZM64.34 105.75H67.73V109.21H64.34Z" fill="#008000"/>
<path d="M98.25 23.88H101.64V27.26H98.25Z" fill="#0000ff"/>
<use href="#grid"/>
<use href="#coast"/>
<path d="M90.01 40.33L96.31 46.63M90.01 46.63L96.31 40.33" stroke="#000" stroke-width="1.1" fill="none"/>
</g>
<text x="165.45" y="12.9" font-size="12.5" text-anchor="end">(e)</text>
<rect x="0" y="0" width="166.15" height="116.45" fill="none" stroke="#000" stroke-width="0.42"/>
<text x="11.8" y="129.45" font-size="12.0" text-anchor="middle">80°W</text>
<text x="79.6" y="129.45" font-size="12.0" text-anchor="middle">60°W</text>
<text x="147.4" y="129.45" font-size="12.0" text-anchor="middle">40°W</text>
<text x="-3.6" y="16.45" font-size="12.0" text-anchor="end">10°N</text>
<text x="-3.6" y="50.25" font-size="12.0" text-anchor="end">0°</text>
<text x="-3.6" y="84.2" font-size="12.0" text-anchor="end">10°S</text>
<text x="-3.6" y="118.8" font-size="12.0" text-anchor="end">20°S</text>
<path d="M11.8 116.45v1.7M79.6 116.45v1.7M147.4 116.45v1.7M0 12.05h-1.7M0 45.85h-1.7M0 79.8h-1.7M0 114.4h-1.7" stroke="#000" stroke-width="0.42" fill="none"/>
<text x="83.08" y="-3.3" font-size="14.45" text-anchor="middle">SAM0-UNICON</text>
</g>
<g transform="translate(245.65 193.75)">
<g clip-path="url(#pc)">
<path d="M44 13.74H47.39V17.37H44ZM40.62 13.74H44.25V17.12H40.62ZM37.23 13.74H40.87V17.12H37.23ZM33.84 13.74H37.48V17.12H33.84ZM44 17.12H47.39V20.5H44ZM67.73 20.5H71.38V24.13H67.73ZM71.12 20.5H74.52V24.13H71.12ZM84.69 20.5H88.08V23.88H84.69ZM81.3 20.5H84.94V24.13H81.3ZM77.91 20.5H81.55V24.13H77.91ZM44 23.88H47.39V27.26H44ZM81.3 23.88H84.69V27.51H81.3ZM77.91 23.88H81.55V27.51H77.91ZM74.52 23.88H78.16V27.51H74.52ZM71.12 23.88H74.77V27.51H71.12ZM67.73 23.88H71.38V27.51H67.73ZM64.34 23.88H67.98V27.51H64.34ZM60.95 23.88H64.59V27.51H60.95ZM57.56 23.88H61.2V27.51H57.56ZM54.17 23.88H57.81V27.51H54.17ZM98.25 23.88H101.64V27.51H98.25ZM94.86 23.88H98.5V27.51H94.86ZM91.47 23.88H95.11V27.51H91.47ZM88.08 23.88H91.72V27.51H88.08ZM81.3 27.26H84.69V30.89H81.3ZM77.91 27.26H81.55V30.89H77.91ZM74.52 27.26H78.16V30.64H74.52ZM71.12 27.26H74.77V30.89H71.12ZM67.73 27.26H71.38V30.89H67.73ZM64.34 27.26H67.98V30.64H64.34ZM60.95 27.26H64.59V30.89H60.95ZM57.56 27.26H61.2V30.64H57.56ZM54.17 27.26H57.81V30.64H54.17ZM50.78 27.26H54.42V30.64H50.78ZM98.25 27.26H101.64V30.64H98.25ZM94.86 27.26H98.5V30.64H94.86ZM91.47 27.26H95.11V30.64H91.47ZM88.08 27.26H91.72V30.64H88.08ZM60.95 30.64H64.34V34.27H60.95ZM67.73 30.64H71.38V34.27H67.73ZM71.12 30.64H74.52V34.02H71.12ZM84.69 30.64H88.08V34.27H84.69ZM81.3 30.64H84.94V34.02H81.3ZM77.91 30.64H81.55V34.02H77.91ZM105.03 30.64H108.42V34.27H105.03ZM40.62 34.02H44.25V37.65H40.62ZM44 34.02H47.39V37.65H44ZM67.73 34.02H71.12V37.65H67.73ZM64.34 34.02H67.98V37.65H64.34ZM60.95 34.02H64.59V37.4H60.95ZM84.69 34.02H88.08V37.65H84.69ZM105.03 34.02H108.67V37.65H105.03ZM108.42 34.02H111.81V37.65H108.42ZM44 37.4H47.39V41.03H44ZM40.62 37.4H44.25V40.78H40.62ZM37.23 37.4H40.87V40.78H37.23ZM94.86 37.4H98.25V40.78H94.86ZM91.47 37.4H95.11V41.03H91.47ZM88.08 37.4H91.72V41.03H88.08ZM84.69 37.4H88.33V41.03H84.69ZM81.3 37.4H84.94V41.03H81.3ZM77.91 37.4H81.55V41.03H77.91ZM74.52 37.4H78.16V41.03H74.52ZM71.12 37.4H74.77V41.03H71.12ZM67.73 37.4H71.38V41.03H67.73ZM64.34 37.4H67.98V40.78H64.34ZM111.81 37.4H115.2V41.03H111.81ZM108.42 37.4H112.06V41.03H108.42ZM105.03 37.4H108.67V41.03H105.03ZM44 40.78H47.39V44.16H44ZM91.47 40.78H94.86V44.41H91.47ZM88.08 40.78H91.72V44.41H88.08ZM84.69 40.78H88.33V44.41H84.69ZM81.3 40.78H84.94V44.41H81.3ZM77.91 40.78H81.55V44.41H77.91ZM74.52 40.78H78.16V44.41H74.52ZM71.12 40.78H74.77V44.41H71.12ZM67.73 40.78H71.38V44.41H67.73ZM111.81 40.78H115.2V44.16H111.81ZM108.42 40.78H112.06V44.41H108.42ZM105.03 40.78H108.67V44.41H105.03ZM101.64 40.78H105.28V44.41H101.64ZM98.25 40.78H101.89V44.41H98.25ZM108.42 44.16H111.81V47.8H108.42ZM105.03 44.16H108.67V47.8H105.03ZM101.64 44.16H105.28V47.8H101.64ZM98.25 44.16H101.89V47.8H98.25ZM94.86 44.16H98.5V47.8H94.86ZM91.47 44.16H95.11V47.8H91.47ZM88.08 44.16H91.72V47.8H88.08ZM84.69 44.16H88.33V47.8H84.69ZM81.3 44.16H84.94V47.8H81.3ZM77.91 44.16H81.55V47.8H77.91ZM74.52 44.16H78.16V47.8H74.52ZM71.12 44.16H74.77V47.8H71.12ZM67.73 44.16H71.38V47.8H67.73ZM64.34 44.16H67.98V47.8H64.34ZM60.95 44.16H64.59V47.8H60.95ZM111.81 47.55H115.2V51.19H111.81ZM108.42 47.55H112.06V51.19H108.42ZM105.03 47.55H108.67V51.19H105.03ZM101.64 47.55H105.28V51.19H101.64ZM98.25 47.55H101.89V51.19H98.25ZM94.86 47.55H98.5V51.19H94.86ZM91.47 47.55H95.11V51.19H91.47ZM88.08 47.55H91.72V51.19H88.08ZM84.69 47.55H88.33V51.19H84.69ZM81.3 47.55H84.94V51.19H81.3ZM77.91 47.55H81.55V51.19H77.91ZM74.52 47.55H78.16V51.19H74.52ZM71.12 47.55H74.77V51.19H71.12ZM67.73 47.55H71.38V51.19H67.73ZM64.34 47.55H67.98V51.19H64.34ZM60.95 47.55H64.59V50.94H60.95ZM111.81 50.94H115.2V54.59H111.81ZM108.42 50.94H112.06V54.59H108.42ZM105.03 50.94H108.67V54.59H105.03ZM101.64 50.94H105.28V54.59H101.64ZM98.25 50.94H101.89V54.59H98.25ZM94.86 50.94H98.5V54.59H94.86ZM91.47 50.94H95.11V54.59H91.47ZM88.08 50.94H91.72V54.59H88.08ZM84.69 50.94H88.33V54.59H84.69ZM81.3 50.94H84.94V54.59H81.3ZM77.91 50.94H81.55V54.59H77.91ZM74.52 50.94H78.16V54.59H74.52ZM71.12 50.94H74.77V54.59H71.12ZM67.73 50.94H71.38V54.59H67.73ZM64.34 50.94H67.98V54.34H64.34ZM115.2 54.34H118.59V57.73H115.2ZM111.81 54.34H115.45V57.98H111.81ZM108.42 54.34H112.06V57.98H108.42ZM105.03 54.34H108.67V57.98H105.03ZM101.64 54.34H105.28V57.98H101.64ZM98.25 54.34H101.89V57.98H98.25ZM94.86 54.34H98.5V57.98H94.86ZM91.47 54.34H95.11V57.98H91.47ZM88.08 54.34H91.72V57.98H88.08ZM84.69 54.34H88.33V57.98H84.69ZM81.3 54.34H84.94V57.98H81.3ZM77.91 54.34H81.55V57.98H77.91ZM74.52 54.34H78.16V57.98H74.52ZM71.12 54.34H74.77V57.98H71.12ZM67.73 54.34H71.38V57.98H67.73ZM111.81 57.73H115.2V61.38H111.81ZM108.42 57.73H112.06V61.38H108.42ZM105.03 57.73H108.67V61.38H105.03ZM101.64 57.73H105.28V61.38H101.64ZM98.25 57.73H101.89V61.38H98.25ZM94.86 57.73H98.5V61.38H94.86ZM91.47 57.73H95.11V61.38H91.47ZM88.08 57.73H91.72V61.38H88.08ZM84.69 57.73H88.33V61.38H84.69ZM81.3 57.73H84.94V61.38H81.3ZM77.91 57.73H81.55V61.38H77.91ZM74.52 57.73H78.16V61.38H74.52ZM71.12 57.73H74.77V61.38H71.12ZM67.73 57.73H71.38V61.13H67.73ZM111.81 61.13H115.2V64.77H111.81ZM108.42 61.13H112.06V64.77H108.42ZM105.03 61.13H108.67V64.77H105.03ZM101.64 61.13H105.28V64.77H101.64ZM98.25 61.13H101.89V64.77H98.25ZM94.86 61.13H98.5V64.77H94.86ZM91.47 61.13H95.11V64.77H91.47ZM88.08 61.13H91.72V64.77H88.08ZM84.69 61.13H88.33V64.77H84.69ZM81.3 61.13H84.94V64.77H81.3ZM77.91 61.13H81.55V64.77H77.91ZM74.52 61.13H78.16V64.77H74.52ZM71.12 61.13H74.77V64.77H71.12ZM111.81 64.52H115.2V68.17H111.81ZM108.42 64.52H112.06V68.17H108.42ZM105.03 64.52H108.67V68.17H105.03ZM101.64 64.52H105.28V68.17H101.64ZM98.25 64.52H101.89V68.17H98.25ZM94.86 64.52H98.5V68.17H94.86ZM91.47 64.52H95.11V68.17H91.47ZM88.08 64.52H91.72V68.17H88.08ZM84.69 64.52H88.33V68.17H84.69ZM81.3 64.52H84.94V68.17H81.3ZM77.91 64.52H81.55V67.92H77.91ZM74.52 64.52H78.16V68.17H74.52ZM71.12 64.52H74.77V67.92H71.12ZM74.52 67.92H77.91V71.31H74.52ZM111.81 67.92H115.2V71.31H111.81ZM108.42 67.92H112.06V71.56H108.42ZM105.03 67.92H108.67V71.56H105.03ZM101.64 67.92H105.28V71.56H101.64ZM98.25 67.92H101.89V71.56H98.25ZM94.86 67.92H98.5V71.56H94.86ZM91.47 67.92H95.11V71.56H91.47ZM88.08 67.92H91.72V71.56H88.08ZM84.69 67.92H88.33V71.56H84.69ZM81.3 67.92H84.94V71.56H81.3ZM108.42 71.31H111.81V74.96H108.42ZM105.03 71.31H108.67V74.96H105.03ZM101.64 71.31H105.28V74.96H101.64ZM98.25 71.31H101.89V74.96H98.25ZM94.86 71.31H98.5V74.96H94.86ZM91.47 71.31H95.11V74.96H91.47ZM88.08 71.31H91.72V74.96H88.08ZM84.69 71.31H88.33V74.96H84.69ZM81.3 71.31H84.94V74.96H81.3ZM77.91 71.31H81.55V74.96H77.91ZM108.42 74.71H111.81V78.1H108.42ZM105.03 74.71H108.67V78.1H105.03ZM101.64 74.71H105.28V78.35H101.64ZM98.25 74.71H101.89V78.35H98.25ZM94.86 74.71H98.5V78.35H94.86ZM91.47 74.71H95.11V78.35H91.47ZM88.08 74.71H91.72V78.35H88.08ZM84.69 74.71H88.33V78.1H84.69ZM81.3 74.71H84.94V78.1H81.3ZM77.91 74.71H81.55V78.1H77.91ZM101.64 78.1H105.03V81.53H101.64ZM98.25 78.1H101.89V81.53H98.25ZM94.86 78.1H98.5V81.53H94.86ZM91.47 78.1H95.11V81.53H91.47ZM88.08 78.1H91.72V81.53H88.08ZM77.91 84.99H81.3V88.45H77.91Z" fill="#ff0000"/>
<path d="M47.39 50.94H50.78V54.34H47.39ZM23.66 57.73H27.05V61.13H23.66ZM20.27 61.13H23.66V64.52H20.27ZM27.05 64.52H30.45V67.92H27.05ZM67.73 71.31H71.12V74.71H67.73Z" fill="#008000"/>
<use href="#grid"/>
<use href="#coast"/>
<path d="M76.45 43.04L82.75 49.34M76.45 49.34L82.75 43.04" stroke="#000" stroke-width="1.1" fill="none"/>
<path d="M107.98 44.74L114.28 51.04M107.98 51.04L114.28 44.74" stroke="#000" stroke-width="1.1" fill="none"/>
</g>
<text x="165.45" y="12.9" font-size="12.5" text-anchor="end">(f)</text>
<rect x="0" y="0" width="166.15" height="116.45" fill="none" stroke="#000" stroke-width="0.42"/>
<text x="11.8" y="129.45" font-size="12.0" text-anchor="middle">80°W</text>
<text x="79.6" y="129.45" font-size="12.0" text-anchor="middle">60°W</text>
<text x="147.4" y="129.45" font-size="12.0" text-anchor="middle">40°W</text>
<text x="-3.6" y="16.45" font-size="12.0" text-anchor="end">10°N</text>
<text x="-3.6" y="50.25" font-size="12.0" text-anchor="end">0°</text>
<text x="-3.6" y="84.2" font-size="12.0" text-anchor="end">10°S</text>
<text x="-3.6" y="118.8" font-size="12.0" text-anchor="end">20°S</text>
<path d="M11.8 116.45v1.7M79.6 116.45v1.7M147.4 116.45v1.7M0 12.05h-1.7M0 45.85h-1.7M0 79.8h-1.7M0 114.4h-1.7" stroke="#000" stroke-width="0.42" fill="none"/>
<text x="83.08" y="-3.3" font-size="14.45" text-anchor="middle">TaiESM1</text>
</g>
<g transform="translate(453.45 193.75)">
<g clip-path="url(#pc)">
<path d="M30.45 88.45H33.84V92.16H30.45ZM27.05 91.91H30.7V95.37H27.05ZM30.45 91.91H34.09V95.62H30.45ZM33.84 91.91H37.23V95.37H33.84ZM44 91.91H47.39V95.37H44ZM30.45 95.37H33.84V98.83H30.45Z" fill="#008000"/>
<use href="#grid"/>
<use href="#coast"/>
</g>
<text x="165.45" y="12.9" font-size="12.5" text-anchor="end">(g)</text>
<rect x="0" y="0" width="166.15" height="116.45" fill="none" stroke="#000" stroke-width="0.42"/>
<text x="11.8" y="129.45" font-size="12.0" text-anchor="middle">80°W</text>
<text x="79.6" y="129.45" font-size="12.0" text-anchor="middle">60°W</text>
<text x="147.4" y="129.45" font-size="12.0" text-anchor="middle">40°W</text>
<text x="-3.6" y="16.45" font-size="12.0" text-anchor="end">10°N</text>
<text x="-3.6" y="50.25" font-size="12.0" text-anchor="end">0°</text>
<text x="-3.6" y="84.2" font-size="12.0" text-anchor="end">10°S</text>
<text x="-3.6" y="118.8" font-size="12.0" text-anchor="end">20°S</text>
<path d="M11.8 116.45v1.7M79.6 116.45v1.7M147.4 116.45v1.7M0 12.05h-1.7M0 45.85h-1.7M0 79.8h-1.7M0 114.4h-1.7" stroke="#000" stroke-width="0.42" fill="none"/>
<text x="83.08" y="-3.3" font-size="14.45" text-anchor="middle">UKESM1-0-LL</text>
</g>
<clipPath id="hc"><rect x="661.45" y="193.4" width="157.35" height="120.3"/></clipPath>
<g clip-path="url(#hc)" fill="none" stroke-linejoin="round" stroke-linecap="butt">
<path d="M668.49 204.49 L669.99 205.49 L671.99 207.78 L673.99 205.99 L675.48 204.99 L675.98 211.98 L677.48 215.48 L679.98 216.78 L682.48 215.48 L684.98 213.48 L686.97 211.48 L689.97 208.98 L692.97 207.48 L695.96 205.99 L696.96 208.48 L697.46 212.48 L699.96 213.48 L701.96 213.18 L702.76 219.97 L703.96 219.47 L704.46 215.98 L707.95 215.48 L710.95 212.98 L711.95 214.48 L712.45 221.97 L713.95 222.47 L715.94 221.47 L719.94 221.77 L723.94 221.97 L725.93 220.97 L727.93 219.47 L731.93 218.97 L735.92 217.47 L738.92 216.98 L739.92 220.47 L740 220.47 L743 221.47 L745 221.47 L749.99 221.97 L751.49 222.97 L751.99 231.96 L752.19 232 L752.49 233.8 L755.98 234 L760.48 234.2 L760.98 241.99 L763.48 242.49 L763.78 245.98 L766.97 247.98 L769.97 248.98 L771.97 248.18 L774.97 248.98 L779.96 249.18 L780.96 255.47 L783.46 256.47 L784.46 260.97 L787.95 259.47 L791.95 259.17 L795.94 259.47 L799.94 259.97 L801.94 262.97 L804.94 261.97 L805.93 268.96 L808.93 269.16 L811.43 268.16" stroke="#1f77b4" stroke-width="0.95"/>
<path d="M668.49 227.26 L671.99 226.77 L675.98 226.17 L679.98 225.97 L683.98 225.17 L687.97 224.17 L691.97 222.77 L695.96 220.97 L699.96 218.97 L703.96 216.98 L707.95 215.18 L711.95 213.18 L715.94 210.98 L719.94 208.48 L723.94 206.79 L725.43 206.49 L726.13 213.48 L727.93 210.48 L731.93 207.48 L733.93 208.48 L735.92 205.49 L739.92 202.79 L740 202.49 L743 203.99 L745.99 201.99 L748.99 202.49 L752.49 199.49" stroke="#2ca02c" stroke-width="1.7"/>
<path d="M752.49 199.49 L752.99 204.99 L753.49 231.96 L753.69 233 L754.49 241.99 L754.99 252.98 L755.98 259.97 L757.48 264.97 L758.98 260.97 L760.48 262.47 L762.48 258.97 L763.98 256.97 L764.98 263.97 L765.47 268.96 L765.57 270 L766.17 278.99 L767.47 273.99 L768.97 270 L769.97 273.99 L771.97 282.49 L773.97 280.49 L775.46 281.49 L777.46 278.99 L779.46 274.99 L780.96 276.49 L782.96 271.5 L784.96 274.99 L787.45 271 L789.45 275.49 L791.95 273.49 L794.45 269 L796.44 272 L798.44 270 L799.94 276.99 L801.14 269 L801.94 278.99 L803.44 282.99 L804.94 280.99 L806.93 283.48 L808.93 282.99 L810.73 280.49" stroke="#2ca02c" stroke-width="0.95"/>
<path d="M668.49 262.47 L674.99 262.17 L681.98 261.77 L689.97 261.17 L694.97 259.97 L701.96 259.17 L707.95 258.47 L713.95 257.77 L719.94 256.47 L725.93 256.17 L729.93 256.47 L734.93 255.97 L738.92 256.77 L740 256.77 L744 256.47 L747.99 257.17 L749.99 256.77 L753.99 258.47 L757.98 259.77 L761.98 261.47 L765.97 263.47 L769.97 265.46 L772.97 267.16 L774.97 269.46 L775.96 270.5 L776.96 272.5 L779.96 275.49 L783.96 277.99 L787.95 281.49 L791.95 284.18 L795.94 285.48 L799.94 285.98 L804.94 285.78 L810.73 285.48" stroke="#9467bd" stroke-width="1.7"/>
<path d="M668.49 220.97 L671.99 221.97 L675.98 220.97 L679.98 220.47 L683.98 220.17 L687.97 219.77 L691.97 218.97 L695.96 218.47 L699.96 218.17 L703.96 218.17 L707.95 217.77 L711.95 218.17 L715.94 218.17 L719.94 218.17 L723.94 218.97 L725.93 219.47 L729.93 218.47 L732.93 217.47 L735.92 216.48 L739.92 217.47 L740 218.17 L742.5 217.77 L745 219.47 L747.99 220.97 L750.49 221.97 L751.49 226.47 L752.99 227.46 L755.98 226.97 L758.48 226.97 L760.98 225.97 L763.48 228.96 L766.97 230.46 L766.97 231 L769.97 235 L772.97 239.99 L775.96 244.79 L778.96 241.99 L781.96 237.99 L785.45 235 L788.95 232.5 L791.95 234 L794.45 238.49 L796.94 243.49 L799.94 241.49 L802.94 243.49 L806.93 244.49 L808.93 241.49 L810.73 240.49" stroke="#8b0000" stroke-width="1.3"/>
<path d="M668.49 212.98 L671.99 213.18 L675.98 213.28 L679.98 212.48 L683.98 211.48 L687.97 209.48 L691.97 207.98 L695.96 206.79 L699.96 205.49 L703.96 203.99 L707.95 202.79 L711.95 202.29 L715.94 202.49 L718.94 201.79 L721.94 202.29 L725.93 202.99 L728.93 203.99 L731.93 202.79 L733.93 203.49 L735.92 206.99 L739.92 207.18 L740 206.99 L744 204.99 L747.99 204.49 L751.99 202.79 L755.48 201.49 L758.98 201.99 L761.48 204.49 L763.98 202.99 L765.97 204.49 L768.97 203.99 L771.97 206.99 L774.47 208.18 L777.96 206.49 L780.46 204.99 L782.96 209.48 L785.95 210.48 L788.95 208.98 L791.95 205.99 L794.45 204.79 L795.94 206.99 L797.94 212.98 L799.94 218.97 L801.94 219.97 L803.94 223.97 L806.43 226.97 L808.93 225.47 L810.73 223.17" stroke="#7f7f7f" stroke-width="1.45"/>
<path d="M668.49 214.18 L671.99 214.18 L675.98 214.78 L679.98 215.28 L683.98 214.78 L687.97 214.98 L691.97 213.98 L695.96 214.18 L699.96 214.98 L703.96 215.18 L707.95 214.98 L711.95 214.78 L715.94 215.48 L719.94 215.78 L723.94 216.48 L727.93 218.47 L731.93 218.47 L734.93 219.47 L737.92 221.47 L739.92 223.47 L740 223.77 L743 224.47 L745 226.47 L747.99 227.46 L748.99 231.96 L749.19 233 L749.99 235.99 L751.99 244.99 L753.99 254.98 L755.48 261.97 L756.98 267.46 L756.98 268 L758.98 273 L761.48 277.99 L763.98 282.99 L766.47 284.98 L767.47 287.98 L769.97 287.48 L771.97 292.48 L773.47 296.97 L776.46 295.47 L779.46 297.97 L782.96 302.47 L784.96 300.97 L787.95 303.96 L791.95 304.46 L793.95 303.96 L795.94 306.46 L799.94 306.46 L802.94 305.46 L806.93 306.76 L810.73 307.76" stroke="#e6a117" stroke-width="1.3"/>
</g>
<rect x="661.45" y="193.4" width="157.35" height="120.3" fill="none" stroke="#000" stroke-width="0.42"/>
<text x="668.6" y="326.7" font-size="12.5" text-anchor="middle">0</text>
<text x="715.97" y="326.7" font-size="12.5" text-anchor="middle">50</text>
<text x="763.33" y="326.7" font-size="12.5" text-anchor="middle">100</text>
<text x="810.7" y="326.7" font-size="12.5" text-anchor="middle">150</text>
<text x="657.85" y="316.8" font-size="12.5" text-anchor="end">0</text>
<text x="657.85" y="278.55" font-size="12.5" text-anchor="end">10</text>
<text x="657.85" y="240.3" font-size="12.5" text-anchor="end">20</text>
<text x="657.85" y="202.05" font-size="12.5" text-anchor="end">30</text>
<text x="700.87" y="189.8" font-size="12.5" text-anchor="middle">400</text>
<text x="766.86" y="189.8" font-size="12.5" text-anchor="middle">800</text>
<text x="805.46" y="189.8" font-size="12.5" text-anchor="middle">1200</text>
<path d="M668.6 313.7v1.7M715.97 313.7v1.7M763.33 313.7v1.7M810.7 313.7v1.7M661.45 312.4h-1.7M661.45 274.15h-1.7M661.45 235.9h-1.7M661.45 197.65h-1.7M700.87 193.4v-1.7M766.86 193.4v-1.7M805.46 193.4v-1.7" stroke="#000" stroke-width="0.42" fill="none"/>
<text x="740.12" y="341.2" font-size="12.5" text-anchor="middle">Time (model years)</text>
<text x="740.12" y="175.9" font-size="12.5" text-anchor="middle">CO<tspan font-size="8.4" dy="2.2">2</tspan><tspan dy="-2.2"> level (ppmv)</tspan></text>
<text transform="translate(636.8 254.15) rotate(-90)" font-size="12.9" text-anchor="middle">cVeg (<tspan font-style="italic">kgm</tspan><tspan font-size="8.8" dy="-4.6">−2</tspan><tspan dy="4.6">)</tspan></text>
<text x="815.2" y="207.4" font-size="12.5" text-anchor="end">(h)</text>
<rect x="205.8" y="358.7" width="422.8" height="39" rx="2" ry="2" fill="#fff" stroke="#ccc" stroke-width="0.5"/>
<path d="M210.1 368h24.6" stroke="#1f77b4" stroke-width="0.8" fill="none"/>
<text x="244.1" y="372.3" font-size="12.1">EC-Earth3-Veg</text>
<path d="M210.1 385.5h24.6" stroke="#2ca02c" stroke-width="0.8" fill="none"/>
<text x="244.1" y="389.8" font-size="12.1">GFDL-ESM4</text>
<path d="M354.4 368h24.6" stroke="#9467bd" stroke-width="0.8" fill="none"/>
<text x="388.4" y="372.3" font-size="12.1">MPI-ESM1-2-LR</text>
<path d="M354.4 385.5h24.6" stroke="#8b0000" stroke-width="0.8" fill="none"/>
<text x="388.4" y="389.8" font-size="12.1">NorCPM1</text>
<path d="M502.6 368h24.6" stroke="#7f7f7f" stroke-width="0.8" fill="none"/>
<text x="536.6" y="372.3" font-size="12.1">SAM0-UNICON</text>
<path d="M502.6 385.5h24.6" stroke="#e6a117" stroke-width="0.8" fill="none"/>
<text x="536.6" y="389.8" font-size="12.1">TaiESM1</text>
</g>
</svg>
</body></html>
